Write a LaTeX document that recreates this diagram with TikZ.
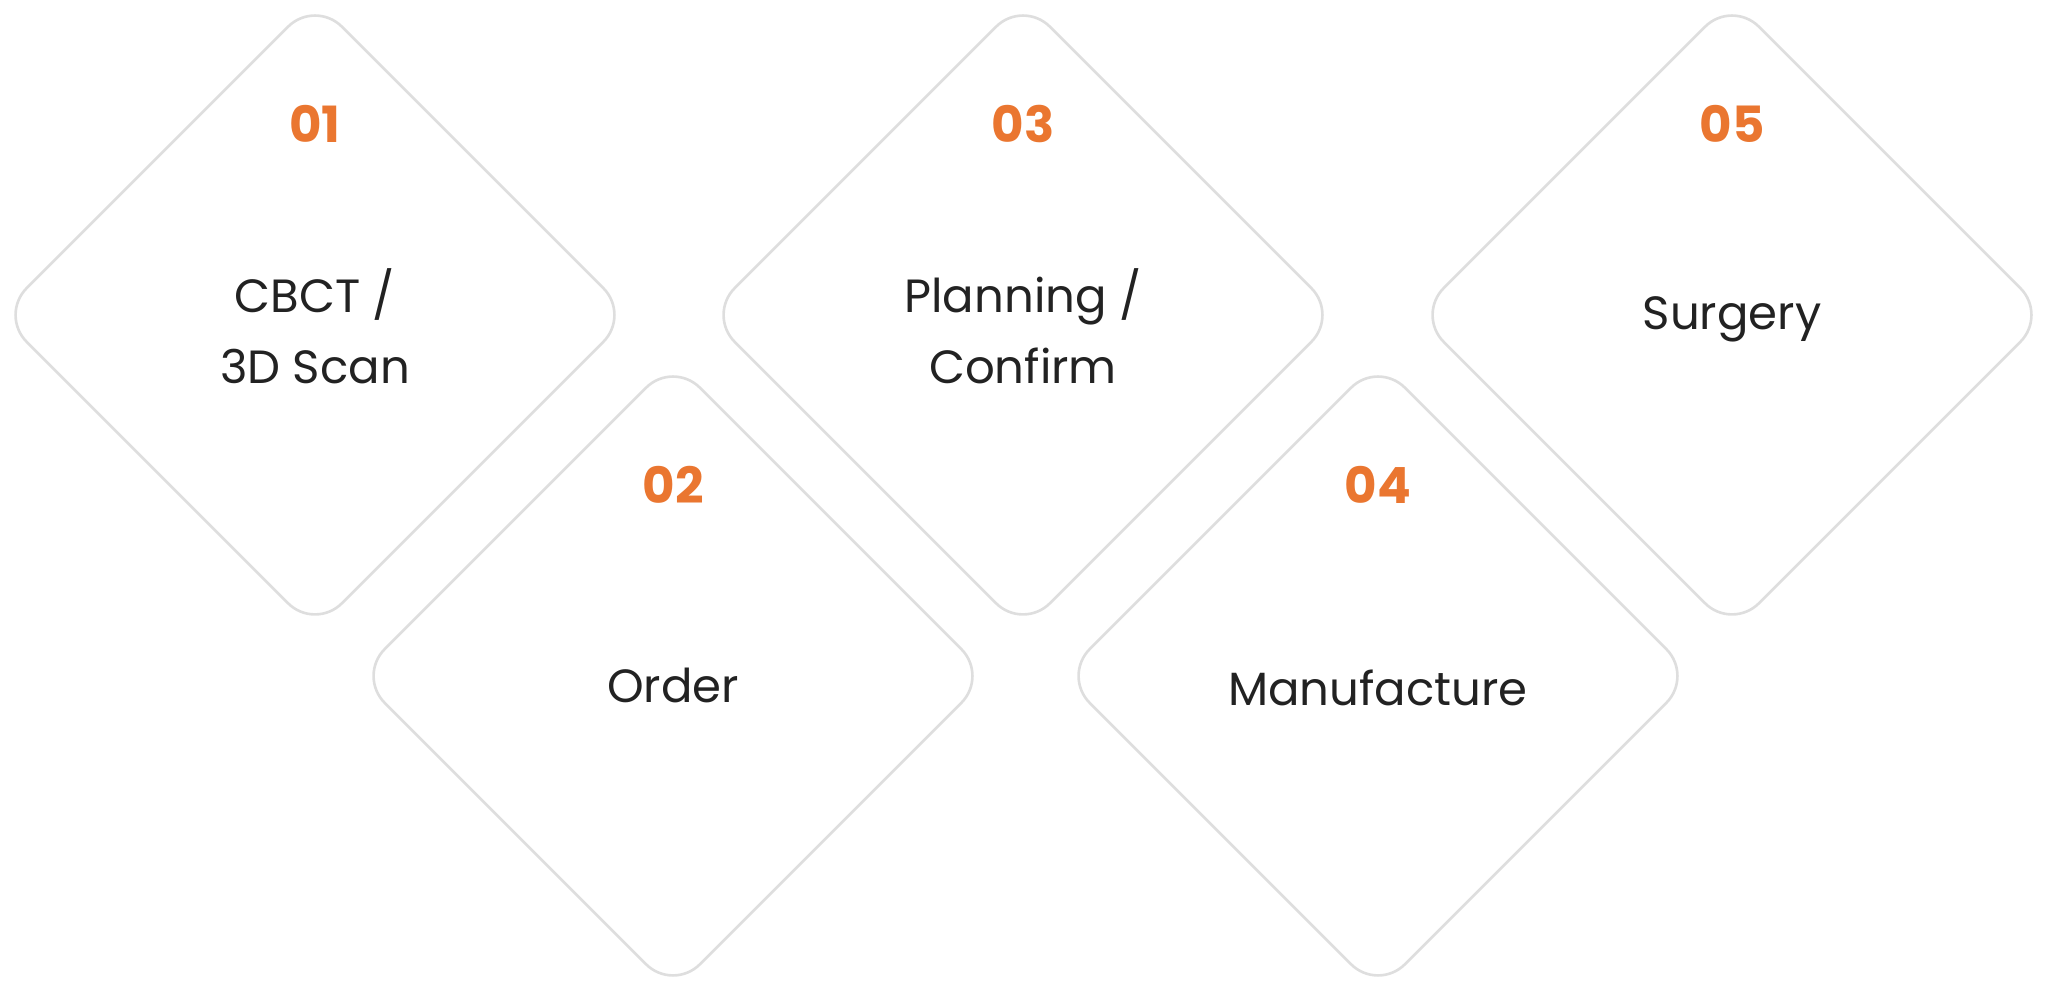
\documentclass[tikz,border=0pt]{standalone}
\usepackage{fontspec}
\setmainfont{Poppins}
\usetikzlibrary{positioning, shapes.geometric}
\definecolor{cardLine}{HTML}{DEDEDE}
\definecolor{stepOrange}{HTML}{EA7630}
\definecolor{labelInk}{HTML}{222222}

\begin{document}
\begin{tikzpicture}[x=0.01cm, y=-0.01cm,
    card/.style={diamond, aspect=1, draw=cardLine, line width=0.75pt, rounded corners=0.38cm, minimum width=6.3cm, minimum height=6.3cm, inner sep=0pt, outer sep=0pt},
    step_num/.style={font=\fontsize{14.2pt}{17pt}\selectfont\bfseries, text=stepOrange, inner sep=0pt},
    step_label/.style={font=\fontsize{13.25pt}{20.2pt}\selectfont, text=labelInk, align=center, inner sep=0pt, anchor=base}
]
\useasboundingbox (0,0) rectangle (2048,992);

\node[card] (s1) at (315,315) {};
\node[card] (s2) at (673,676) {};
\node[card] (s3) at (1023,315) {};
\node[card] (s4) at (1378,676) {};
\node[card] (s5) at (1732,315) {};

\node[step_num, below=1.05cm of s1.north] (n1) {01};
\node[step_num, below=1.05cm of s2.north] (n2) {02};
\node[step_num, below=1.05cm of s3.north] (n3) {03};
\node[step_num, below=1.05cm of s4.north] (n4) {04};
\node[step_num, below=1.05cm of s5.north] (n5) {05};

\node[step_label] (l1) at (315,384) {CBCT /\\3D Scan};
\node[step_label] (l2) at (673,703) {Order};
\node[step_label] (l3) at (1023,384) {Planning /\\Confirm};
\node[step_label] (l4) at (1378,706) {Manufacture};
\node[step_label] (l5) at (1732,330) {Surgery};
\end{tikzpicture}
\end{document}
